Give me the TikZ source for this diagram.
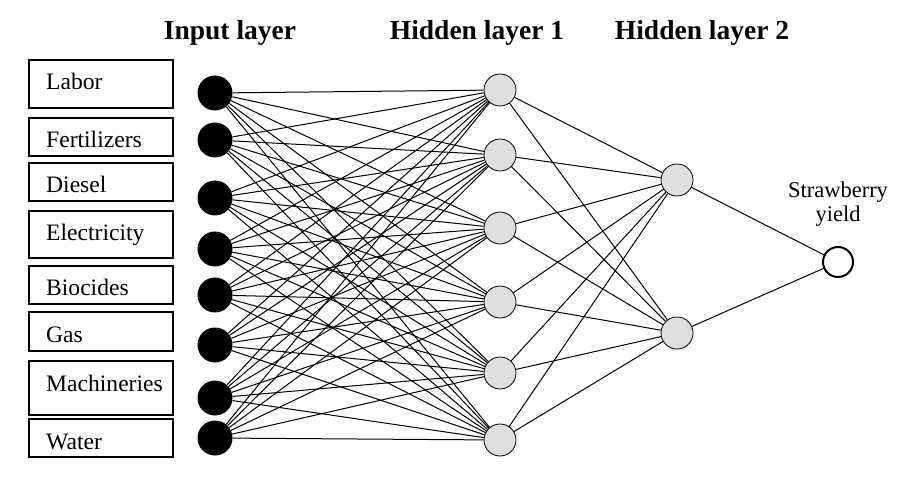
\documentclass[tikz,border=0pt]{standalone}
\usepackage{fontspec}
\setmainfont{Liberation Serif}
\begin{document}
\begin{tikzpicture}[x=1pt,y=-1pt,
  box/.style={draw,line width=1.2pt},
  lab/.style={anchor=base west,font=\fontsize{20}{22}\selectfont,scale=1.18},
  inp/.style={circle,fill=black,minimum size=35pt,inner sep=0},
  hid/.style={circle,draw,line width=0.8pt,fill=gray!25,minimum size=32pt,inner sep=0},
  outn/.style={circle,draw,line width=2pt,fill=white,minimum size=30pt,inner sep=0},
  ttl/.style={font=\bfseries\fontsize{22}{24}\selectfont,scale=1.25},
  edge/.style={line width=1pt}]
\useasboundingbox (0,0) rectangle (918,478);
\foreach \t/\b/\n [count=\i] in {60/108/Labor,118/156/Fertilizers,163/201/Diesel,211/258/Electricity,266/304/Biocides,312/351/Gas,361/415/Machineries,419/457/Water}{
  \draw[box] (29,\t) rectangle (173,\b);
  \node[lab] (t\i) at (42,\t+30) {\n};
}
\foreach \y [count=\i] in {93,140,198,249,295,345,398,438}
  \node[inp] (i\i) at (215,\y) {};
\foreach \y [count=\i] in {90,155,228,302,373,440}
  \node[hid] (h\i) at (500,\y) {};
\foreach \y [count=\i] in {180,333}
  \node[hid] (g\i) at (677,\y) {};
\node[outn] (o) at (838,262) {};
\node[font=\fontsize{18}{19}\selectfont,scale=1.25,align=center] (ol) at (838,204) {Strawberry\\yield};
\node[ttl] (T1) at (230,33) {Input layer};
\node[ttl] (T2) at (477,33) {Hidden layer 1};
\node[ttl] (T3) at (702,33) {Hidden layer 2};
\begin{scope}[on background layer/.try]
\foreach \i in {1,...,8}\foreach \j in {1,...,6}
  \draw[edge] (i\i) -- (h\j);
\foreach \j in {1,...,6}\foreach \k in {1,2}
  \draw[edge] (h\j) -- (g\k);
\foreach \k in {1,2} \draw[edge] (g\k) -- (o);
\end{scope}
\end{tikzpicture}
\end{document}
